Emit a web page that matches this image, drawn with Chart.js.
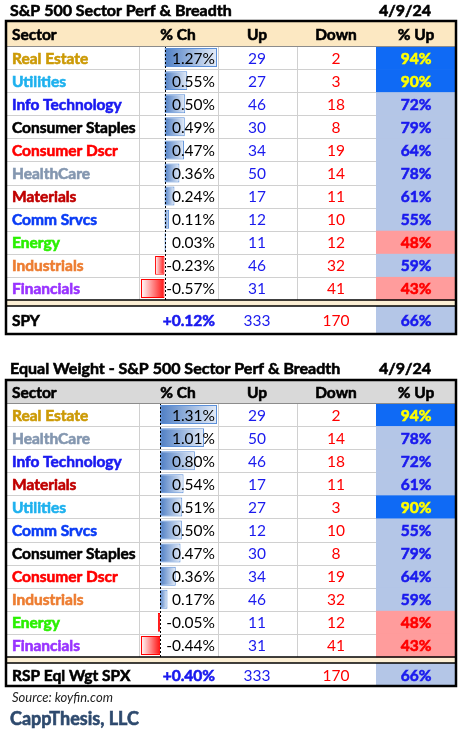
<!DOCTYPE html>
<html>
<head>
<meta charset="utf-8">
<script src="https://cdn.jsdelivr.net/npm/chart.js@4.4.1/dist/chart.umd.min.js"></script>
<style>
  html, body { margin: 0; padding: 0; background: #fff; }
  #wrap { position: relative; width: 460px; height: 729px; }
  canvas { position: absolute; left: 0; top: 0; }
</style>
</head>
<body>
<div id="wrap">
  <canvas id="spx" width="460" height="729"></canvas>
  <canvas id="rsp" width="460" height="729"></canvas>
</div>
<script>
// ---- data: cap weighted S&P 500 ----
const sectors1 = ['Real Estate', 'Utilities', 'Info Technology', 'Consumer Staples', 'Consumer Dscr',
  'HealthCare', 'Materials', 'Comm Srvcs', 'Energy', 'Industrials', 'Financials'];
const chg1 = [1.27, 0.55, 0.50, 0.49, 0.47, 0.36, 0.24, 0.11, 0.03, -0.23, -0.57];
const up1 = [29, 27, 46, 30, 34, 50, 17, 12, 11, 46, 31];
const down1 = [2, 3, 18, 8, 19, 14, 11, 10, 12, 32, 41];
const pctUp1 = [94, 90, 72, 79, 64, 78, 61, 55, 48, 59, 43];
const total1 = ['SPY', '+0.12%', 333, 170, 66];

// ---- data: equal weight ----
const sectors2 = ['Real Estate', 'HealthCare', 'Info Technology', 'Materials', 'Utilities',
  'Comm Srvcs', 'Consumer Staples', 'Consumer Dscr', 'Industrials', 'Energy', 'Financials'];
const chg2 = [1.31, 1.01, 0.80, 0.54, 0.51, 0.50, 0.47, 0.36, 0.17, -0.05, -0.44];
const up2 = [29, 50, 46, 17, 27, 12, 30, 34, 46, 11, 31];
const down2 = [2, 14, 18, 11, 3, 10, 8, 19, 32, 12, 41];
const pctUp2 = [94, 78, 72, 61, 90, 55, 79, 64, 59, 48, 43];
const total2 = ['RSP Eql Wgt SPX', '+0.40%', 333, 170, 66];

const headers = ['Sector', '% Ch', 'Up', 'Down', '% Up'];
const asOf = '4/9/24';

const sectorColors = {
  'Real Estate': '#CC9A06',
  'Utilities': '#1EB1EE',
  'Info Technology': '#1A1AF0',
  'Consumer Staples': '#000000',
  'Consumer Dscr': '#FF0000',
  'HealthCare': '#8497B0',
  'Materials': '#C00000',
  'Comm Srvcs': '#0A3CF5',
  'Energy': '#2AF000',
  'Industrials': '#ED7D31',
  'Financials': '#9933FF'
};

const FONT = 'Lato, "Open Sans", sans-serif';
const COLS = [6, 139, 218, 297, 376, 456];   // column edges
const BLUE = '#1A1AEE';
const RED = '#FF0000';
const GRID = '#D0D0D0';
const SEP_FILL = '#FCEFD4';

function upStyle(p) {
  if (p >= 90) return ['#0F6AF5', '#FFFF00'];
  if (p >= 50) return ['#B4C6E7', BLUE];
  return ['#FF9C9C', RED];
}

// bold text gets a thin stroke so Lato reads about as heavy as Calibri bold
function txt(ctx, s, x, y, font, color, align, heavy) {
  ctx.font = font;
  ctx.fillStyle = color;
  ctx.textAlign = align || 'left';
  ctx.textBaseline = 'middle';
  ctx.fillText(s, x, y);
  if (heavy) {
    ctx.strokeStyle = color;
    ctx.lineWidth = 0.6;
    ctx.strokeText(s, x, y);
  }
}

function hline(ctx, x1, x2, y) {
  ctx.beginPath(); ctx.moveTo(x1, y); ctx.lineTo(x2, y); ctx.stroke();
}
function vline(ctx, x, y1, y2) {
  ctx.beginPath(); ctx.moveTo(x, y1); ctx.lineTo(x, y2); ctx.stroke();
}

function barFill(c) {
  const chart = c.chart;
  const xs = chart.scales.x;
  if (!xs || !chart.chartArea) return 'rgba(0,0,0,0)';
  const v = c.raw;
  const x0 = xs.getPixelForValue(0);
  const x1 = xs.getPixelForValue(v);
  if (Math.abs(x1 - x0) < 0.5) return v >= 0 ? '#5585C8' : RED;
  const g = chart.ctx.createLinearGradient(x0, 0, x1, 0);
  if (v >= 0) {
    g.addColorStop(0, '#4E7EC4');
    g.addColorStop(1, '#E4ECF8');
  } else {
    g.addColorStop(0, '#FF1010');
    g.addColorStop(1, '#FFFFFF');
  }
  return g;
}

function tablePlugin(t) {
  return {
    id: 'table_' + t.id,
    beforeDatasetsDraw(chart) {
      const ctx = chart.ctx, ys = chart.scales.y;
      const n = t.sectors.length;
      const step = (ys.bottom - ys.top) / n;
      const L = COLS[0], R = COLS[5];
      ctx.save();
      // header + separator bands
      ctx.fillStyle = t.headFill;
      ctx.fillRect(L, t.top, R - L, ys.top - t.top);
      ctx.fillStyle = SEP_FILL;
      ctx.fillRect(L, ys.bottom, R - L, t.sepBottom - ys.bottom);
      // grid
      ctx.strokeStyle = GRID;
      ctx.lineWidth = 1;
      for (let i = 1; i < n; i++) hline(ctx, L, R, Math.round(ys.top + i * step) + 0.5);
      COLS.slice(1, -1).forEach(cx => vline(ctx, cx + 0.5, ys.top, ys.bottom));
      // % up cells
      t.pctUp.forEach((p, i) => {
        ctx.fillStyle = upStyle(p)[0];
        ctx.fillRect(COLS[4], ys.top + i * step, R - COLS[4], step + 0.6);
      });
      ctx.fillStyle = upStyle(t.total[4])[0];
      ctx.fillRect(COLS[4], t.sepBottom, R - COLS[4], t.bottom - t.sepBottom);
      ctx.restore();
    },
    afterDatasetsDraw(chart) {
      const ctx = chart.ctx, ys = chart.scales.y, xs = chart.scales.x;
      const n = t.sectors.length;
      const L = COLS[0], R = COLS[5];
      ctx.save();
      // zero axis
      const x0 = Math.round(xs.getPixelForValue(0)) + 0.5;
      ctx.strokeStyle = '#000';
      ctx.lineWidth = 1;
      ctx.setLineDash([2, 2]);
      vline(ctx, x0, ys.top, ys.bottom);
      ctx.setLineDash([]);

      // titles
      txt(ctx, t.title, 10, t.titleY, 'bold 16px ' + FONT, '#000', 'left', true);
      txt(ctx, asOf, 405, t.titleY, 'bold 16px ' + FONT, '#000', 'center', true);

      // header
      const hy = (t.top + ys.top) / 2 + 1;
      const hf = 'bold 15.5px ' + FONT;
      txt(ctx, headers[0], 12, hy, hf, '#000', 'left', true);
      txt(ctx, headers[1], 178, hy, hf, '#000', 'center', true);
      txt(ctx, headers[2], 257, hy, hf, '#000', 'center', true);
      txt(ctx, headers[3], 336, hy, hf, '#000', 'center', true);
      txt(ctx, headers[4], 416, hy, hf, '#000', 'center', true);

      // rows
      const bf = 'bold 15.5px ' + FONT, rf = '15.5px ' + FONT;
      for (let i = 0; i < n; i++) {
        const y = ys.getPixelForValue(i) + 1;
        const name = t.sectors[i];
        txt(ctx, name, 12, y, bf, sectorColors[name], 'left', true);
        txt(ctx, t.chg[i].toFixed(2) + '%', 215, y, rf, '#000', 'right');
        txt(ctx, String(t.up[i]), 257, y, rf, BLUE, 'center');
        txt(ctx, String(t.down[i]), 336, y, rf, RED, 'center');
        txt(ctx, t.pctUp[i] + '%', 416, y, bf, upStyle(t.pctUp[i])[1], 'center', true);
      }

      // total row
      const ty = (t.sepBottom + t.bottom) / 2 + 1;
      txt(ctx, t.total[0], 12, ty, bf, '#000', 'left', true);
      txt(ctx, t.total[1], 215, ty, bf, BLUE, 'right', true);
      txt(ctx, String(t.total[2]), 257, ty, rf, BLUE, 'center');
      txt(ctx, String(t.total[3]), 336, ty, rf, RED, 'center');
      txt(ctx, t.total[4] + '%', 416, ty, bf, upStyle(t.total[4])[1], 'center', true);

      // borders
      ctx.strokeStyle = '#8C8C8C';
      ctx.lineWidth = 1;
      hline(ctx, L, R, Math.round(ys.top) + 0.5);
      ctx.strokeStyle = '#000';
      ctx.lineWidth = 1.5;
      hline(ctx, L, R, ys.bottom);
      hline(ctx, L, R, t.sepBottom);
      ctx.lineWidth = 2.5;
      ctx.strokeRect(L, t.top, R - L, t.bottom - t.top);

      if (t.footer) {
        txt(ctx, 'Source: koyfin.com', 12, 698, 'italic 13px ' + FONT, '#222');
        txt(ctx, 'CappThesis, LLC', 10, 719, 'bold 18px ' + FONT, '#2E4A6E', 'left', true);
      }
      ctx.restore();
    }
  };
}

function makeTable(canvasId, t) {
  const canvas = document.getElementById(canvasId);
  if (!canvas) return;
  const ctx = canvas.getContext('2d');
  return new Chart(ctx, {
    type: 'bar',
    data: {
      labels: t.sectors,
      datasets: [{
        data: t.chg,
        backgroundColor: barFill,
        borderColor: c => (c.raw >= 0 ? '#5B8FD8' : '#FF0000'),
        borderWidth: 1,
        borderSkipped: false,
        barPercentage: 0.82,
        categoryPercentage: 1
      }]
    },
    options: {
      indexAxis: 'y',
      responsive: false,
      animation: false,
      layout: {
        padding: { left: 141, right: 460 - 217, top: t.rowTop, bottom: 729 - t.rowBottom }
      },
      scales: {
        x: { display: false, min: Math.min(0, ...t.chg), max: Math.max(0, ...t.chg) },
        y: { display: false }
      },
      plugins: {
        legend: { display: false },
        tooltip: { enabled: false }
      }
    },
    plugins: [tablePlugin(t)]
  });
}

makeTable('spx', {
  id: 'spx', title: 'S&P 500 Sector Perf & Breadth', titleY: 11,
  headFill: '#FCE8C2', top: 21, rowTop: 46, rowBottom: 300, sepBottom: 306, bottom: 334,
  sectors: sectors1, chg: chg1, up: up1, down: down1, pctUp: pctUp1, total: total1
});

makeTable('rsp', {
  id: 'rsp', title: 'Equal Weight - S&P 500 Sector Perf & Breadth', titleY: 369,
  headFill: '#D9D9D9', top: 380, rowTop: 403, rowBottom: 657, sepBottom: 663, bottom: 686,
  sectors: sectors2, chg: chg2, up: up2, down: down2, pctUp: pctUp2, total: total2,
  footer: true
});
</script>
</body>
</html>
